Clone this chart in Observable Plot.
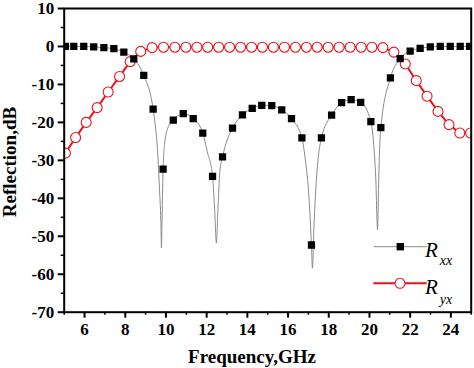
<!DOCTYPE html>
<html><head><meta charset="utf-8">
<script src="https://cdn.jsdelivr.net/npm/d3@7"></script>
<script src="https://cdn.jsdelivr.net/npm/@observablehq/plot@0.6"></script>
<style>
body{margin:0;background:#fff;}
#chart{position:relative;width:474px;height:368px;}
#chart svg text{font-family:"Liberation Serif","Times New Roman",serif !important;}
</style></head><body><div id="chart"></div>
<script>
// ---- data ----
const rxxFreq = [5.06,5.47,5.96,6.45,6.95,7.44,7.93,8.42,8.91,9.37,9.86,10.36,10.85,11.34,11.81,12.29,12.78,13.27,13.76,14.24,14.71,15.20,15.69,16.17,16.68,17.15,17.64,18.14,18.63,19.10,19.57,20.07,20.56,21.03,21.51,22.00,22.49,22.99,23.48,23.97,24.46,24.92];
const rxxDb = [0,0,0,-0.1,-0.3,-0.6,-1.5,-3.3,-7.6,-16.5,-32.3,-19.4,-17.7,-19.0,-22.8,-34.2,-29.1,-21.5,-18.0,-16.3,-15.5,-15.6,-16.7,-19.0,-24.1,-52.3,-24.1,-18.1,-14.8,-14.0,-14.7,-19.8,-21.4,-8.3,-3.2,-1.2,-0.5,-0.1,0,0,0,0];
// extra points (deep resonance dips)
const dipFreq = [9.49,9.60,9.68,9.75,9.78,9.80,9.93,10.09, 12.03,12.39,12.48,12.55,12.65,13.01, 16.86,17.02,17.20,17.27,17.40, 20.21,20.31,20.40,20.44,20.49];
const dipDb = [-21.5,-28.5,-37.3,-46.1,-53.1,-47.9,-25.9,-21.5, -27.7,-42.6,-51.8,-43.5,-32.9,-24.6, -30.3,-39.1,-58.4,-47.9,-34.7, -25.9,-34.7,-48.3,-39.1,-28.5];
const ryxFreq = [5.06,5.56,6.08,6.62,7.16,7.72,8.24,8.76,9.32,9.88,10.44,10.98,11.52,12.05,12.59,13.13,13.67,14.21,14.74,15.28,15.82,16.36,16.90,17.43,17.97,18.51,19.05,19.59,20.12,20.66,21.20,21.76,22.30,22.83,23.37,23.91,24.44,24.97];
const ryxDb = [-28.1,-24.0,-20.0,-16.1,-12.0,-7.9,-4.0,-1.3,-0.3,-0.2,-0.2,-0.2,-0.2,-0.2,-0.2,-0.2,-0.2,-0.2,-0.2,-0.2,-0.2,-0.2,-0.2,-0.2,-0.2,-0.2,-0.2,-0.2,-0.2,-0.3,-1.5,-4.6,-9.0,-13.1,-17.1,-20.6,-22.8,-22.8];
const xTicks = [6,8,10,12,14,16,18,20,22,24];
const xMinor = [5,7,9,11,13,15,17,19,21,23,25];
const yTicks = [-70,-60,-50,-40,-30,-20,-10,0,10];
const yMinor = [-65,-55,-45,-35,-25,-15,-5,5];
const seriesNames = ["R", "xx", "R", "yx"];
const xLabel = "Frequency,GHz";
const yLabel = "Reflection,dB";

// ---- tables ----
const rxx = rxxFreq.map((f,i)=>({f, db: rxxDb[i]}));
const ryx = ryxFreq.map((f,i)=>({f, db: ryxDb[i]}));
const curve = rxx.concat(dipFreq.map((f,i)=>({f, db: dipDb[i]}))).sort((a,b)=>a.f-b.f);

const RED = "#e8141c", GREY = "#8a8a8a";
const serif = "Liberation Serif, Times New Roman, serif";
const axisFont = {fontFamily: serif, fontSize: 17, fontWeight: "bold"};

const plot = Plot.plot({
  width: 474, height: 368,
  marginLeft: 63.7, marginRight: 3.3, marginTop: 8, marginBottom: 56.3,
  style: {fontFamily: serif, fontSize: "17px", background: "white", color: "black"},
  x: {domain: [5, 25]},
  y: {domain: [-70, 10]},
  marks: [
    Plot.axisX({ticks: xTicks, tickSize: 6, tickPadding: 4.5, tickFormat: d => String(d), label: null, strokeWidth: 2, ...axisFont}),
    Plot.axisX({ticks: xMinor, tickSize: 3, tickFormat: () => "", label: null, strokeWidth: 1.5}),
    Plot.axisY({ticks: yTicks, tickSize: 6, tickPadding: 4, tickFormat: d => String(d), label: null, strokeWidth: 2, ...axisFont}),
    Plot.axisY({ticks: yMinor, tickSize: 3, tickFormat: () => "", label: null, strokeWidth: 1.5}),
    Plot.line(ryx, {x: "f", y: "db", stroke: RED, strokeWidth: 2, clip: true}),
    Plot.dot(ryx, {x: "f", y: "db", r: 5, fill: "white", stroke: RED, strokeWidth: 1.1, clip: true}),
    Plot.line(curve, {x: "f", y: "db", stroke: GREY, strokeWidth: 1, curve: "monotone-x", clip: true}),
    Plot.dot(rxx, {x: "f", y: "db", symbol: "square", r: 4.1, fill: "black", stroke: "none", clip: true}),
    Plot.frame({stroke: "black", strokeWidth: 2})
  ]
});
document.getElementById("chart").appendChild(plot);

const svg = d3.select(plot);
svg.selectAll("text").attr("font-family", serif).style("font-family", serif);
// axis titles
svg.append("text").attr("x", 252).attr("y", 362.7).attr("text-anchor", "middle").attr("font-family", serif)
  .attr("font-weight", "bold").attr("font-size", 19).attr("fill", "black").text(xLabel);
svg.append("text").attr("transform", "translate(15.5,162) rotate(-90)").attr("text-anchor", "middle").attr("font-family", serif)
  .attr("font-weight", "bold").attr("font-size", 19).attr("fill", "black").text(yLabel);

// legend
const lg = svg.append("g").attr("font-family", serif).attr("font-weight", "normal").attr("font-style", "italic").attr("fill", "black");
lg.append("line").attr("x1", 373.7).attr("x2", 427).attr("y1", 246.7).attr("y2", 246.7).attr("stroke", GREY).attr("stroke-width", 1);
lg.append("rect").attr("x", 400.3 - 3.7).attr("y", 246.7 - 3.7).attr("width", 7.4).attr("height", 7.4).attr("fill", "black");
lg.append("text").attr("x", 431.5).attr("y", 256.7).attr("font-size", 21).text(seriesNames[0]);
lg.append("text").attr("x", 446).attr("y", 264.7).attr("font-size", 14).text(seriesNames[1]);
lg.append("line").attr("x1", 373.3).attr("x2", 426.7).attr("y1", 283.3).attr("y2", 283.3).attr("stroke", RED).attr("stroke-width", 2);
lg.append("circle").attr("cx", 400).attr("cy", 283.3).attr("r", 5).attr("fill", "white").attr("stroke", RED).attr("stroke-width", 1.1);
lg.append("text").attr("x", 431.5).attr("y", 294).attr("font-size", 21).text(seriesNames[2]);
lg.append("text").attr("x", 446).attr("y", 303.5).attr("font-size", 14).text(seriesNames[3]);
</script>
</body></html>
